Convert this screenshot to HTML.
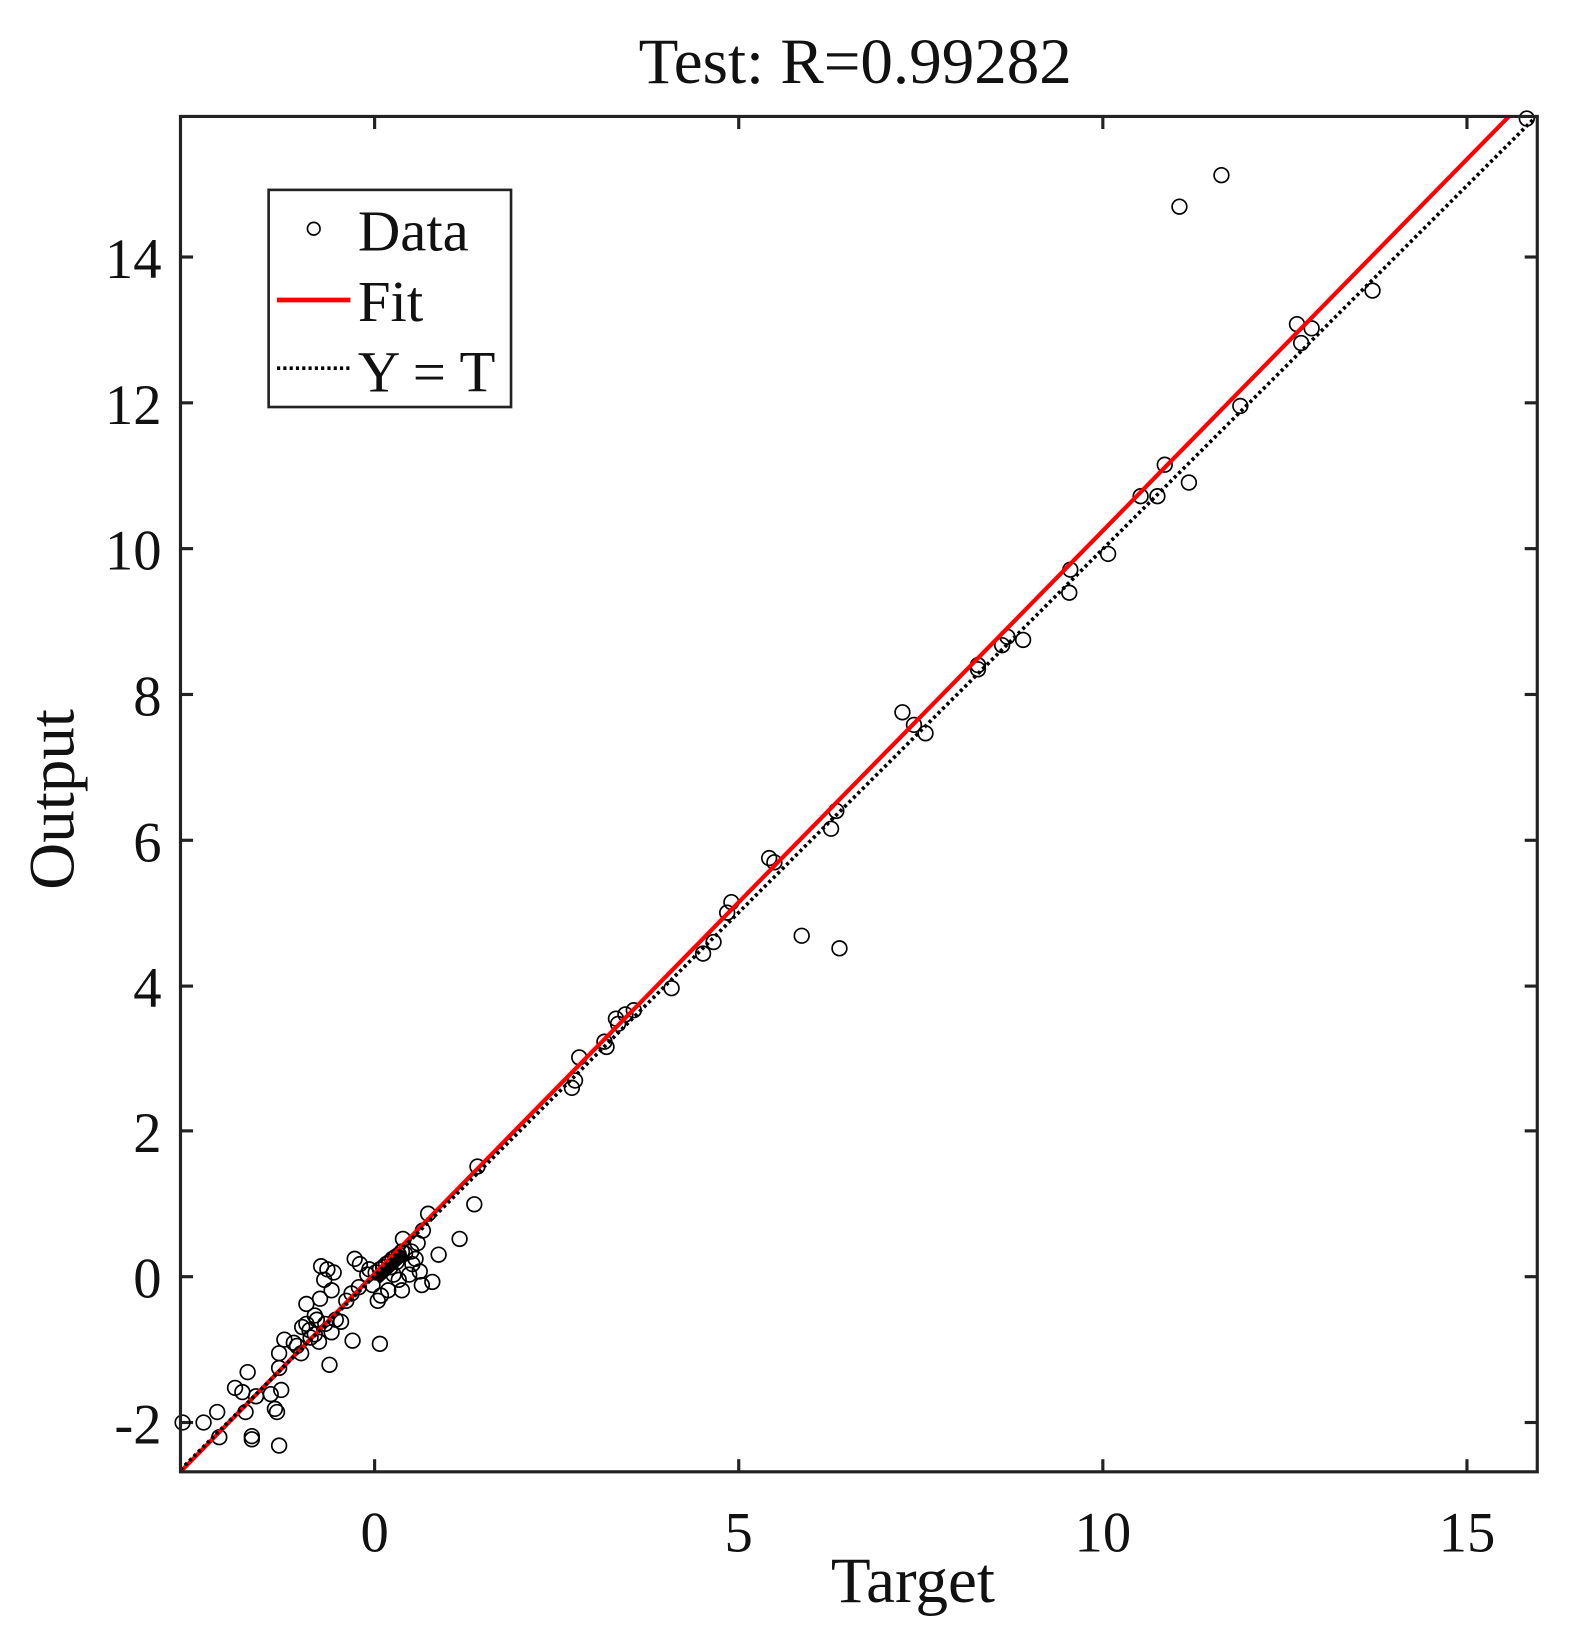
<!DOCTYPE html>
<html><head><meta charset="utf-8"><style>html,body{margin:0;padding:0;background:#fff}svg{display:block}</style></head>
<body>
<svg width="1574" height="1647" viewBox="0 0 1500 1570" preserveAspectRatio="none" xmlns="http://www.w3.org/2000/svg" font-family="'Liberation Serif',serif" fill="#111">
<rect width="1500" height="1570" fill="#fff"/>
<text x="815" y="79" font-size="62" text-anchor="middle">Test: R=0.99282</text>
<g stroke="#222" stroke-width="3">
<line x1="172" y1="245" x2="184" y2="245"/><line x1="172" y1="384" x2="184" y2="384"/><line x1="172" y1="523" x2="184" y2="523"/><line x1="172" y1="662" x2="184" y2="662"/><line x1="172" y1="801" x2="184" y2="801"/><line x1="172" y1="940" x2="184" y2="940"/><line x1="172" y1="1078" x2="184" y2="1078"/><line x1="172" y1="1217" x2="184" y2="1217"/><line x1="172" y1="1356" x2="184" y2="1356"/>
<line x1="1465" y1="245" x2="1453" y2="245"/><line x1="1465" y1="384" x2="1453" y2="384"/><line x1="1465" y1="523" x2="1453" y2="523"/><line x1="1465" y1="662" x2="1453" y2="662"/><line x1="1465" y1="801" x2="1453" y2="801"/><line x1="1465" y1="940" x2="1453" y2="940"/><line x1="1465" y1="1078" x2="1453" y2="1078"/><line x1="1465" y1="1217" x2="1453" y2="1217"/><line x1="1465" y1="1356" x2="1453" y2="1356"/>
<line x1="357" y1="1403" x2="357" y2="1391"/><line x1="704" y1="1403" x2="704" y2="1391"/><line x1="1051" y1="1403" x2="1051" y2="1391"/><line x1="1398" y1="1403" x2="1398" y2="1391"/>
<line x1="357" y1="111" x2="357" y2="123"/><line x1="704" y1="111" x2="704" y2="123"/><line x1="1051" y1="111" x2="1051" y2="123"/><line x1="1398" y1="111" x2="1398" y2="123"/>
</g>
<g font-size="54" text-anchor="end">
<text x="154" y="265">14</text><text x="154" y="404">12</text><text x="154" y="543">10</text><text x="154" y="682">8</text><text x="154" y="821">6</text><text x="154" y="960">4</text><text x="154" y="1098">2</text><text x="154" y="1237">0</text><text x="154" y="1376">-2</text>
</g>
<g font-size="54" text-anchor="middle">
<text x="357" y="1479">0</text><text x="704" y="1479">5</text><text x="1051" y="1479">10</text><text x="1398" y="1479">15</text>
</g>
<text x="870" y="1527" font-size="62" text-anchor="middle">Target</text>
<text transform="translate(70,762) rotate(-90)" font-size="62" text-anchor="middle">Output</text>
<g fill="none" stroke="#000" stroke-width="1.6">
<circle cx="1455" cy="113" r="7"/><circle cx="1164" cy="167" r="7"/><circle cx="1124" cy="197" r="7"/><circle cx="1308" cy="277" r="7"/><circle cx="1236" cy="309" r="7"/><circle cx="1250" cy="313" r="7"/><circle cx="1240" cy="327" r="7"/><circle cx="1182" cy="387" r="7"/><circle cx="1110" cy="443" r="7"/><circle cx="1087" cy="473" r="7"/><circle cx="1103" cy="473" r="7"/><circle cx="1133" cy="460" r="7"/><circle cx="1056" cy="528" r="7"/><circle cx="1020" cy="543" r="7"/><circle cx="1019" cy="565" r="7"/><circle cx="975" cy="610" r="7"/><circle cx="960" cy="607" r="7"/><circle cx="955" cy="615" r="7"/><circle cx="932" cy="634" r="7"/><circle cx="932" cy="638" r="7"/><circle cx="860" cy="679" r="7"/><circle cx="871" cy="691" r="7"/><circle cx="882" cy="699" r="7"/><circle cx="792" cy="790" r="7"/><circle cx="797" cy="773" r="7"/><circle cx="733" cy="818" r="7"/><circle cx="738" cy="822" r="7"/><circle cx="697" cy="860" r="7"/><circle cx="693" cy="870" r="7"/><circle cx="680" cy="898" r="7"/><circle cx="670" cy="909" r="7"/><circle cx="764" cy="892" r="7"/><circle cx="800" cy="904" r="7"/><circle cx="640" cy="942" r="7"/><circle cx="604" cy="963" r="7"/><circle cx="596" cy="967" r="7"/><circle cx="587" cy="971" r="7"/><circle cx="589" cy="976" r="7"/><circle cx="576" cy="993" r="7"/><circle cx="578" cy="998" r="7"/><circle cx="552" cy="1008" r="7"/><circle cx="548" cy="1030" r="7"/><circle cx="545" cy="1037" r="7"/><circle cx="455" cy="1112" r="7"/><circle cx="452" cy="1148" r="7"/><circle cx="438" cy="1181" r="7"/><circle cx="408" cy="1157" r="7"/><circle cx="403" cy="1173" r="7"/><circle cx="384" cy="1181" r="7"/><circle cx="418" cy="1196" r="7"/><circle cx="412" cy="1222" r="7"/><circle cx="362" cy="1281" r="7"/><circle cx="336" cy="1278" r="7"/><circle cx="314" cy="1301" r="7"/><circle cx="174" cy="1356" r="7"/><circle cx="194" cy="1356" r="7"/><circle cx="207" cy="1346" r="7"/><circle cx="209" cy="1370" r="7"/><circle cx="240" cy="1369" r="7"/><circle cx="240" cy="1372" r="7"/><circle cx="266" cy="1378" r="7"/><circle cx="236" cy="1308" r="7"/><circle cx="234" cy="1346" r="7"/><circle cx="224" cy="1323" r="7"/><circle cx="231" cy="1327" r="7"/><circle cx="244" cy="1331" r="7"/><circle cx="262" cy="1343" r="7"/><circle cx="264" cy="1346" r="7"/><circle cx="258" cy="1329" r="7"/><circle cx="268" cy="1325" r="7"/><circle cx="266" cy="1304" r="7"/><circle cx="271" cy="1277" r="7"/><circle cx="266" cy="1290" r="7"/><circle cx="283" cy="1283" r="7"/><circle cx="287" cy="1290" r="7"/><circle cx="292" cy="1262" r="7"/><circle cx="295" cy="1268" r="7"/><circle cx="300" cy="1272" r="7"/><circle cx="304" cy="1279" r="7"/><circle cx="302" cy="1258" r="7"/><circle cx="292" cy="1243" r="7"/><circle cx="310" cy="1262" r="7"/><circle cx="316" cy="1270" r="7"/><circle cx="320" cy="1258" r="7"/><circle cx="325" cy="1260" r="7"/><circle cx="300" cy="1254" r="7"/><circle cx="305" cy="1238" r="7"/><circle cx="309" cy="1220" r="7"/><circle cx="306" cy="1207" r="7"/><circle cx="312" cy="1210" r="7"/><circle cx="318" cy="1213" r="7"/><circle cx="316" cy="1230" r="7"/><circle cx="330" cy="1240" r="7"/><circle cx="335" cy="1233" r="7"/><circle cx="338" cy="1200" r="7"/><circle cx="343" cy="1205" r="7"/><circle cx="342" cy="1227" r="7"/><circle cx="350" cy="1215" r="7"/><circle cx="352" cy="1210" r="7"/><circle cx="355" cy="1225" r="7"/><circle cx="360" cy="1240" r="7"/><circle cx="363" cy="1235" r="7"/><circle cx="370" cy="1230" r="7"/><circle cx="372" cy="1208" r="7"/><circle cx="375" cy="1215" r="7"/><circle cx="378" cy="1203" r="7"/><circle cx="380" cy="1220" r="7"/><circle cx="383" cy="1230" r="7"/><circle cx="386" cy="1195" r="7"/><circle cx="390" cy="1215" r="7"/><circle cx="393" cy="1205" r="7"/><circle cx="396" cy="1200" r="7"/><circle cx="400" cy="1212" r="7"/><circle cx="402" cy="1225" r="7"/><circle cx="398" cy="1185" r="7"/><circle cx="392" cy="1193" r="7"/><circle cx="288" cy="1265" r="7"/><circle cx="296" cy="1275" r="7"/><circle cx="280" cy="1280" r="7"/>
<circle cx="358" cy="1213" r="7"/><circle cx="362" cy="1210" r="7"/><circle cx="365" cy="1208" r="7"/><circle cx="368" cy="1205" r="7"/><circle cx="371" cy="1203" r="7"/><circle cx="374" cy="1200" r="7"/><circle cx="377" cy="1198" r="7"/><circle cx="380" cy="1196" r="7"/><circle cx="383" cy="1193" r="7"/>
</g>
<path d="M355,1217 L382,1190 L390,1198 L362,1224 Z" fill="#000"/>
<line x1="172" y1="1403" x2="1438" y2="111" stroke="#f00" stroke-width="4"/>
<line x1="172" y1="1401" x2="1463" y2="112" stroke="#000" stroke-width="3.5" stroke-dasharray="3,3"/>
<rect x="172" y="111" width="1293" height="1292" fill="none" stroke="#222" stroke-width="3"/>
<rect x="256" y="181" width="231" height="207" fill="#fff" stroke="#222" stroke-width="2.5"/>
<circle cx="299" cy="218" r="6" fill="none" stroke="#000" stroke-width="1.6"/>
<line x1="264" y1="286" x2="334" y2="286" stroke="#f00" stroke-width="4.5"/>
<line x1="264" y1="351" x2="334" y2="351" stroke="#000" stroke-width="3.5" stroke-dasharray="3,3"/>
<g font-size="56"><text x="341" y="239">Data</text><text x="341" y="306">Fit</text><text x="341" y="373">Y = T</text></g>
</svg>
</body></html>
